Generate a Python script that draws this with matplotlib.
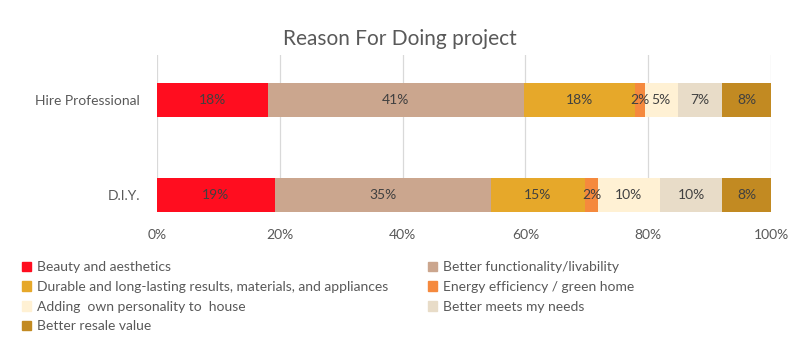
import matplotlib.pyplot as plt
from matplotlib.patches import Patch

plt.rcParams['font.family'] = ['Lato', 'DejaVu Sans']

groups = ["D.I.Y.", "Hire Professional"]
reasons = [
    "Beauty and aesthetics",
    "Better functionality/livability",
    "Durable and long-lasting results, materials, and appliances",
    "Energy efficiency / green home",
    "Adding  own personality to  house",
    "Better meets my needs",
    "Better resale value",
]
colors = ["#FF0D1F", "#CBA68E", "#E6A82A", "#F5893D", "#FFF1D4", "#E8DCC8", "#C28A22"]

# shares per reason, [D.I.Y., Hire Professional]
diy = [19.2, 35.2, 15.3, 2.1, 10.1, 10.1, 8.0]
hire = [18.1, 41.6, 18.2, 1.5, 5.4, 7.2, 8.0]
diy_labels = ["19%", "35%", "15%", "2%", "10%", "10%", "8%"]
hire_labels = ["18%", "41%", "18%", "2%", "5%", "7%", "8%"]

fig = plt.figure(figsize=(8, 3.58), dpi=100)
ax = fig.add_axes([0.196, 0.408, 0.768, 0.438])

grey = "#595959"
left = [0.0, 0.0]
for i, r in enumerate(reasons):
    vals = [diy[i], hire[i]]
    bars = ax.barh([0, 1], vals, left=left, height=0.36, color=colors[i], zorder=3)
    for b, lab in zip(bars, [diy_labels[i], hire_labels[i]]):
        ax.text(b.get_x() + b.get_width() / 2, b.get_y() + b.get_height() / 2, lab,
                ha="center", va="center", fontsize=10, color="#404040", zorder=4)
    left = [left[0] + vals[0], left[1] + vals[1]]

ax.set_xlim(0, 100)
ax.set_ylim(-0.18, 1.47)
ax.set_xticks(range(0, 101, 20))
ax.set_xticklabels([f"{t}%" for t in range(0, 101, 20)])
ax.set_yticks([0, 1])
ax.set_yticklabels(groups)
ax.tick_params(length=0, labelsize=10, colors=grey)
ax.tick_params(axis="x", pad=12)
ax.tick_params(axis="y", pad=12)
ax.grid(axis="x", color="#D9D9D9", lw=0.9, zorder=0)
for s in ax.spines.values():
    s.set_visible(False)

fig.text(0.5, 0.892, "Reason For Doing project", ha="center", va="center",
         fontsize=15, color=grey)

order = [0, 2, 4, 6, 1, 3, 5]
handles = [Patch(color=colors[i]) for i in order]
labels = [reasons[i] for i in order]
fig.legend(handles, labels, ncol=2, loc="upper left", bbox_to_anchor=(0.027, 0.27),
           frameon=False, fontsize=10, labelcolor=grey, handlelength=0.7,
           handleheight=0.7, handletextpad=0.4, labelspacing=0.55, columnspacing=2.85,
           borderaxespad=0, borderpad=0)

fig.savefig("out.png", dpi=100)
